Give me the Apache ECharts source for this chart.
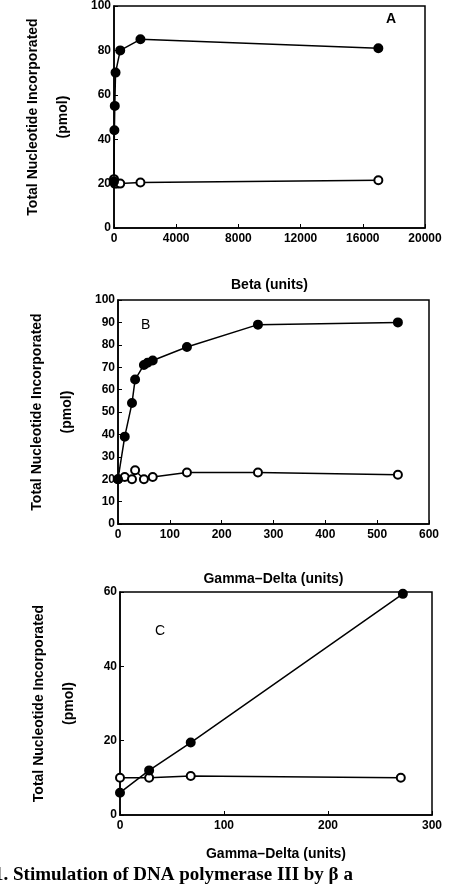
<!DOCTYPE html>
<html>
<head>
<meta charset="utf-8">
<script src="https://cdn.jsdelivr.net/npm/echarts@6/dist/echarts.min.js"></script>
<style>html,body{margin:0;padding:0;background:#fff}#chart{width:474px;height:886px}</style>
</head>
<body>
<div id="chart"></div>
<script>
// panel A: beta titration
var aFilled = [[0, 21], [25, 44], [50, 55], [100, 70], [400, 80], [1700, 85], [17000, 81]]
var aOpen = [[0, 22], [50, 20], [200, 20], [400, 20], [1700, 20.5], [17000, 21.5]]
// panel B: gamma-delta titration
var bFilled = [[0, 20], [13, 39], [27, 54], [33, 64.5], [50, 71], [57, 72], [67, 73], [133, 79], [270, 89], [540, 90]]
var bOpen = [[0, 20], [13, 21], [27, 20], [33, 24], [50, 20], [67, 21], [133, 23], [270, 23], [540, 22]]
// panel C
var cFilled = [[0, 6], [28, 12], [68, 19.5], [272, 59.5]]
var cOpen = [[0, 10], [28, 10], [68, 10.5], [270, 10]]

var yName = 'Total Nucleotide Incorporated\n(pmol)'
var font = 'Liberation Sans'

function xAxis (idx, max, interval, name, gap) {
  return {
    gridIndex: idx, type: 'value', min: 0, max: max, interval: interval,
    name: name, nameLocation: 'middle', nameGap: gap,
    nameTextStyle: { fontFamily: font, fontWeight: 'bold', fontSize: 14, color: '#000' },
    axisLine: { lineStyle: { color: '#000', width: 1.5 } },
    axisTick: { inside: true, length: 4, lineStyle: { color: '#000' } },
    axisLabel: { fontFamily: font, fontWeight: 'bold', fontSize: 12, color: '#000', margin: 5,
      formatter: function (v) { return String(v) } },
    splitLine: { show: false }
  }
}
function yAxis (idx, max, interval) {
  return {
    gridIndex: idx, type: 'value', min: 0, max: max, interval: interval,
    name: yName, nameLocation: 'middle', nameGap: 36, nameRotate: 90,
    nameTextStyle: { fontFamily: font, fontWeight: 'bold', fontSize: 14, color: '#000', lineHeight: 30 },
    axisLine: { lineStyle: { color: '#000', width: 1.5 } },
    axisTick: { inside: true, length: 4, lineStyle: { color: '#000' } },
    axisLabel: { fontFamily: font, fontWeight: 'bold', fontSize: 12, color: '#000', margin: 3 },
    splitLine: { show: false }
  }
}
function line (idx, data, filled) {
  return {
    type: 'line', xAxisIndex: idx, yAxisIndex: idx, data: data,
    symbol: 'circle', symbolSize: 8, showAllSymbol: true,
    lineStyle: { color: '#000', width: 1.5 },
    itemStyle: { color: filled ? '#000' : '#fff', borderColor: '#000', borderWidth: 2 },
    z: filled ? 3 : 2
  }
}

var myChart = echarts.init(document.getElementById('chart'))
myChart.setOption({
  animation: false,
  backgroundColor: '#fff',
  grid: [
    { left: 114, top: 5, width: 311, height: 223, show: true, borderColor: '#000', borderWidth: 1.5 },
    { left: 118, top: 300, width: 311, height: 224, show: true, borderColor: '#000', borderWidth: 1.5 },
    { left: 120, top: 592, width: 312, height: 223, show: true, borderColor: '#000', borderWidth: 1.5 }
  ],
  xAxis: [
    xAxis(0, 20000, 4000, 'Beta (units)', 50),
    xAxis(1, 600, 100, 'Gamma\u2013Delta (units)', 48),
    xAxis(2, 300, 100, 'Gamma\u2013Delta (units)', 32)
  ],
  yAxis: [yAxis(0, 100, 20), yAxis(1, 100, 10), yAxis(2, 60, 20)],
  series: [
    line(0, aOpen, false), line(0, aFilled, true),
    line(1, bOpen, false), line(1, bFilled, true),
    line(2, cOpen, false), line(2, cFilled, true)
  ],
  graphic: [
    { type: 'text', left: 386, top: 12, style: { text: 'A', font: 'bold 14px Liberation Sans', fill: '#000' } },
    { type: 'text', left: 141, top: 318, style: { text: 'B', font: '14px Liberation Sans', fill: '#000' } },
    { type: 'text', left: 155, top: 624, style: { text: 'C', font: '14px Liberation Sans', fill: '#000' } },
    { type: 'text', left: -6, top: 866, style: { text: '1. Stimulation of DNA polymerase III by \u03b2 a', font: 'bold 19px Liberation Serif', fill: '#000' } }
  ]
})
</script>
</body>
</html>
